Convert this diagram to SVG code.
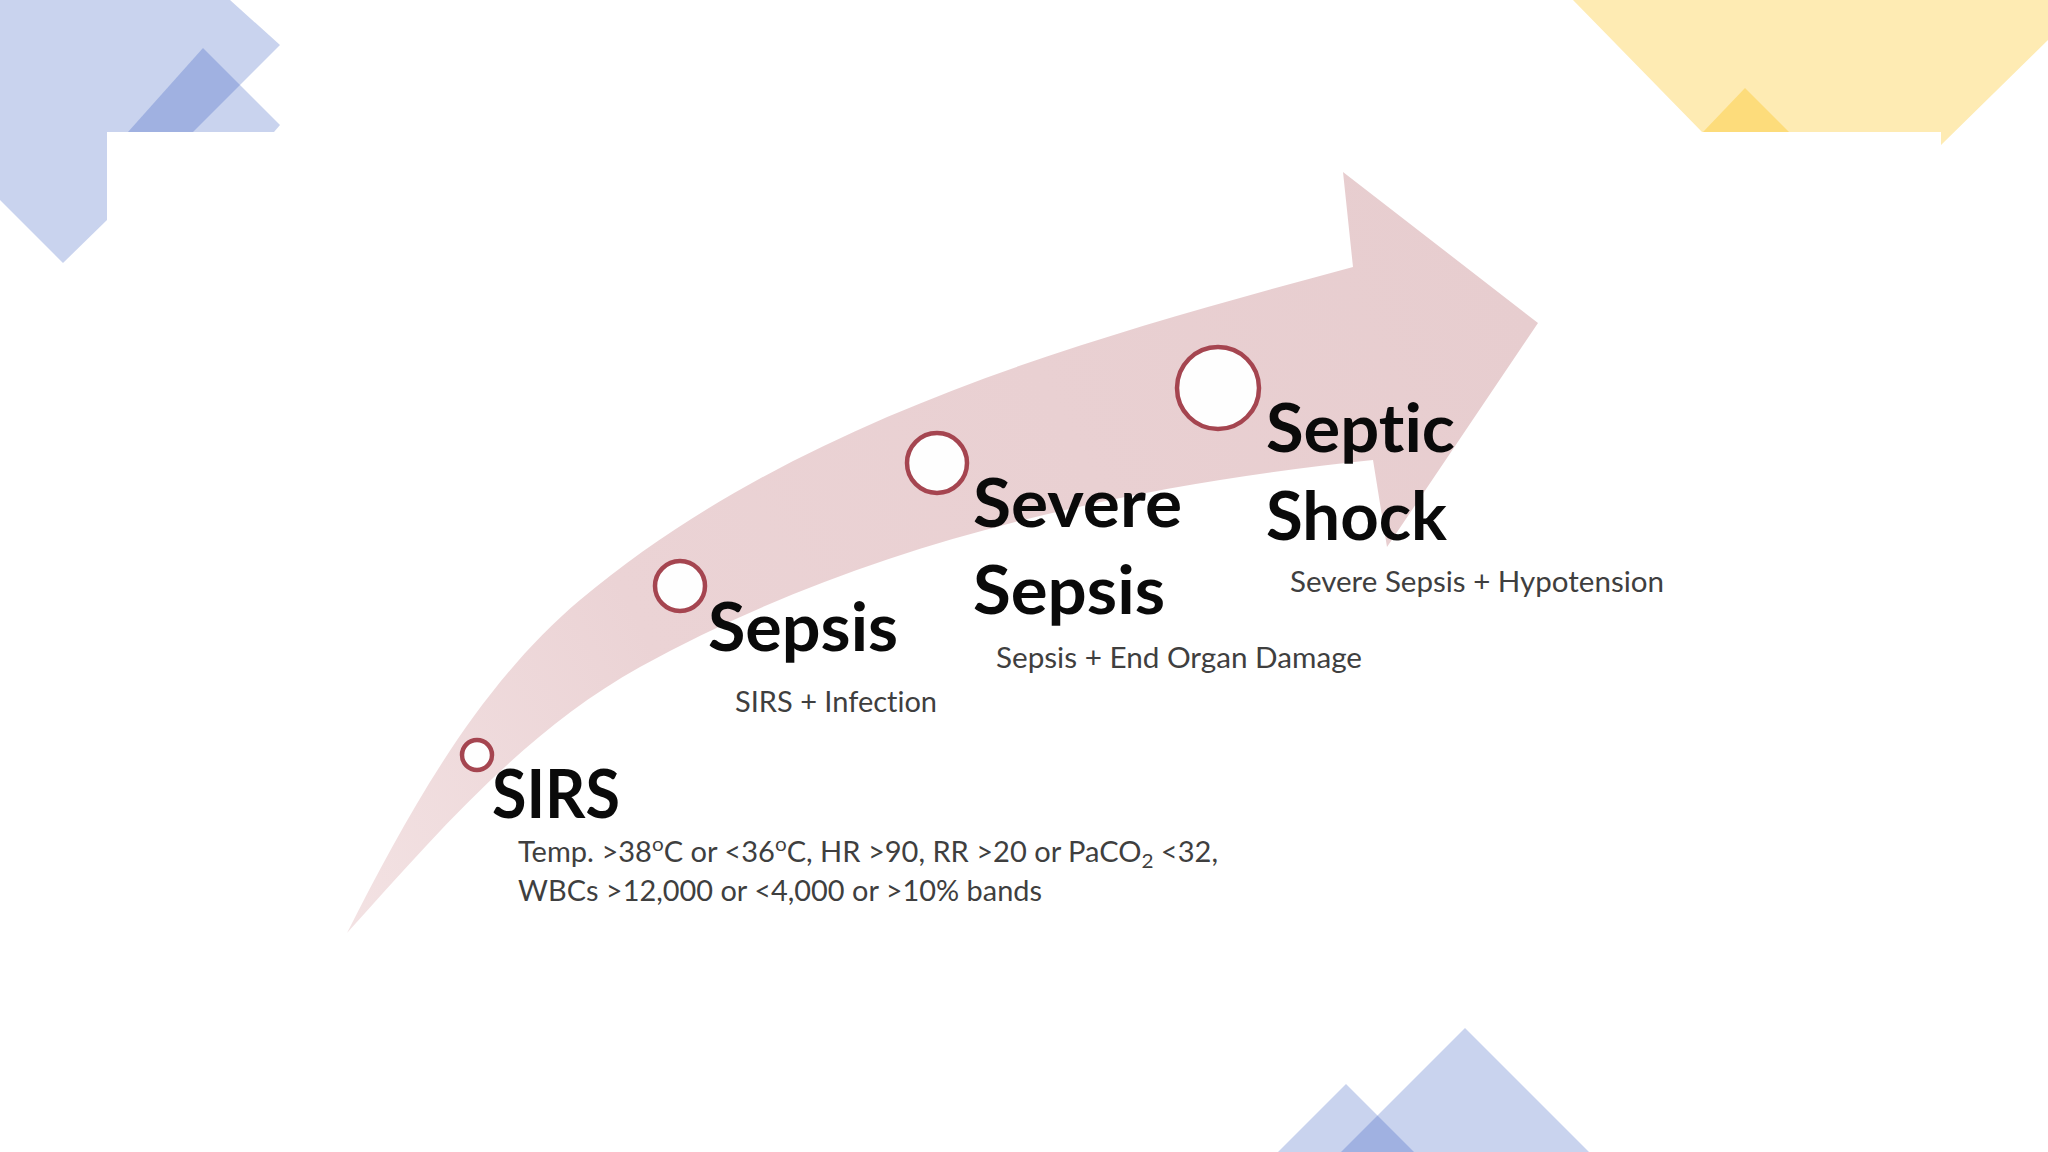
<svg xmlns="http://www.w3.org/2000/svg" width="2048" height="1152" viewBox="0 0 2048 1152">
  <defs>
    <linearGradient id="arrowGrad" gradientUnits="userSpaceOnUse" x1="347" y1="933" x2="1538" y2="323">
      <stop offset="0" stop-color="#f3e2e3"/>
      <stop offset="0.3" stop-color="#ebd3d5"/>
      <stop offset="1" stop-color="#e7cdcf"/>
    </linearGradient>
    <style>
      .blue { fill: #1f48b8; fill-opacity: 0.24; }
      .ylight { fill: #feebb3; }
      .ydark { fill: #fddc7b; }
      .dot { fill: #fefefe; stroke: #a54550; stroke-width: 4.5; }
      .title { font-family: Lato, "Liberation Sans", sans-serif; font-weight: 700; font-size: 67px; fill: #0a0a0a; font-variant-ligatures: none; }
      .desc { font-family: Lato, "Liberation Sans", sans-serif; font-weight: 400; font-size: 28px; fill: #3f3f3f; font-variant-ligatures: none; }
      .sup { font-size: 20px; }
    </style>
  </defs>

  <rect x="0" y="0" width="2048" height="1152" fill="#ffffff"/>

  <!-- decorative background shapes -->
  <g id="decor">
    <polygon class="blue" points="0,0 230,0 280,45 193,132 107,132 107,220 63,263 0,200"/>
    <polygon class="blue" points="203,48 280,125 274,132 128,132"/>
    <polygon class="ylight" points="1573,0 2048,0 2048,40 1941,145 1941,132 1702,132"/>
    <polygon class="ydark" points="1745,88 1789,132 1703,132"/>
    <polygon class="blue" points="1465,1028 1589,1152 1341,1152"/>
    <polygon class="blue" points="1346,1084 1414,1152 1278,1152"/>
  </g>

  <!-- curved progression arrow -->
  <g id="connectors">
    <path id="progress-arrow" fill="url(#arrowGrad)" d="M347,933
      C408,813 477,687 580,600
      C794.5,420 1082.5,339.5 1353,267
      L1343,172 L1538,323 L1387,547 L1373,460
      C1120.4,486.5 862,544 640,667
      C524.5,731 435.3,834.9 347,933 Z"/>
  </g>

  <!-- stages -->
  <g id="node-sirs">
    <circle class="dot" cx="477" cy="755" r="15"/>
    <text class="title" x="492" y="818" textLength="128" lengthAdjust="spacingAndGlyphs">SIRS</text>
    <text class="desc" x="518" y="862" textLength="700" lengthAdjust="spacingAndGlyphs">Temp. &gt;38<tspan class="sup" dy="-11">o</tspan><tspan dy="11">C or &lt;36</tspan><tspan class="sup" dy="-11">o</tspan><tspan dy="11">C, HR &gt;90, RR &gt;20 or PaCO</tspan><tspan class="sup" dy="6">2</tspan><tspan dy="-6"> &lt;32,</tspan></text>
    <text class="desc" x="518" y="901" textLength="524" lengthAdjust="spacingAndGlyphs">WBCs &gt;12,000 or &lt;4,000 or &gt;10% bands</text>
  </g>

  <g id="node-sepsis">
    <circle class="dot" cx="680" cy="586" r="25"/>
    <text class="title" x="708" y="651" textLength="190" lengthAdjust="spacingAndGlyphs">Sepsis</text>
    <text class="desc" x="735" y="712" textLength="202" lengthAdjust="spacingAndGlyphs">SIRS + Infection</text>
  </g>

  <g id="node-severe-sepsis">
    <circle class="dot" cx="937" cy="463" r="30"/>
    <text class="title" x="973" y="527" textLength="209" lengthAdjust="spacingAndGlyphs">Severe</text>
    <text class="title" x="973" y="614" textLength="192" lengthAdjust="spacingAndGlyphs">Sepsis</text>
    <text class="desc" x="996" y="668" textLength="366" lengthAdjust="spacingAndGlyphs">Sepsis + End Organ Damage</text>
  </g>

  <g id="node-septic-shock">
    <circle class="dot" cx="1218" cy="388" r="41"/>
    <text class="title" x="1266" y="452" textLength="189" lengthAdjust="spacingAndGlyphs">Septic</text>
    <text class="title" x="1266" y="540" textLength="181" lengthAdjust="spacingAndGlyphs">Shock</text>
    <text class="desc" x="1290" y="592" textLength="374" lengthAdjust="spacingAndGlyphs">Severe Sepsis + Hypotension</text>
  </g>
</svg>
